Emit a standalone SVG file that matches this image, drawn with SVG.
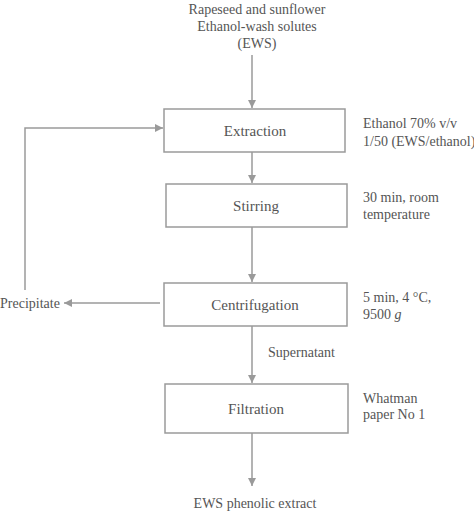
<svg xmlns="http://www.w3.org/2000/svg" width="474" height="513" viewBox="0 0 474 513">
<defs>
<marker id="ah" markerWidth="10" markerHeight="10" refX="8" refY="4" orient="auto" markerUnits="userSpaceOnUse">
<path d="M0,0 L8,4 L0,8 Z" fill="#9a9a9a"/>
</marker>
<style>
text{font-family:"Liberation Serif","Times New Roman",serif;fill:#555;font-size:14px}
.lbl{font-size:15px;text-anchor:middle}
.c{text-anchor:middle}
rect{fill:#fff;stroke:#9a9a9a;stroke-width:1.5}
.con path{fill:none;stroke:#9a9a9a;stroke-width:1.5;marker-end:url(#ah)}
</style>
</defs>
<rect x="0" y="0" width="474" height="513" style="stroke:none"/>
<g id="source">
<text class="c" x="257" y="14">Rapeseed and sunflower</text>
<text class="c" x="257" y="31">Ethanol-wash solutes</text>
<text class="c" x="257" y="48">(EWS)</text>
</g>
<g class="con">
<path d="M252,55 V108"/>
<path d="M252,152 V183"/>
<path d="M252,227 V282"/>
<path d="M252,326 V383"/>
<path d="M252,433 V486"/>
<path d="M160,303 H64"/>
<path d="M25,290 V128 H163"/>
</g>
<g id="extraction">
<rect x="164" y="109" width="181" height="43"/>
<text class="lbl" x="255" y="136">Extraction</text>
<text x="363" y="128">Ethanol 70% v/v</text>
<text x="363" y="146">1/50 (EWS/ethanol)</text>
</g>
<g id="stirring">
<rect x="166" y="184" width="181" height="43"/>
<text class="lbl" x="256" y="211">Stirring</text>
<text x="363" y="202">30 min, room</text>
<text x="363" y="219">temperature</text>
</g>
<g id="centrifugation">
<rect x="164" y="283" width="183" height="43"/>
<text class="lbl" x="255" y="310">Centrifugation</text>
<text x="363" y="302">5 min, 4 °C,</text>
<text x="363" y="319">9500 <tspan font-style="italic">g</tspan></text>
</g>
<g id="precipitate">
<text x="0" y="308">Precipitate</text>
</g>
<g id="supernatant">
<text x="268" y="357">Supernatant</text>
</g>
<g id="filtration">
<rect x="165" y="384" width="183" height="49"/>
<text class="lbl" x="256" y="414">Filtration</text>
<text x="363" y="403">Whatman</text>
<text x="363" y="419">paper No 1</text>
</g>
<g id="product">
<text class="c" x="255" y="508">EWS phenolic extract</text>
</g>
</svg>
